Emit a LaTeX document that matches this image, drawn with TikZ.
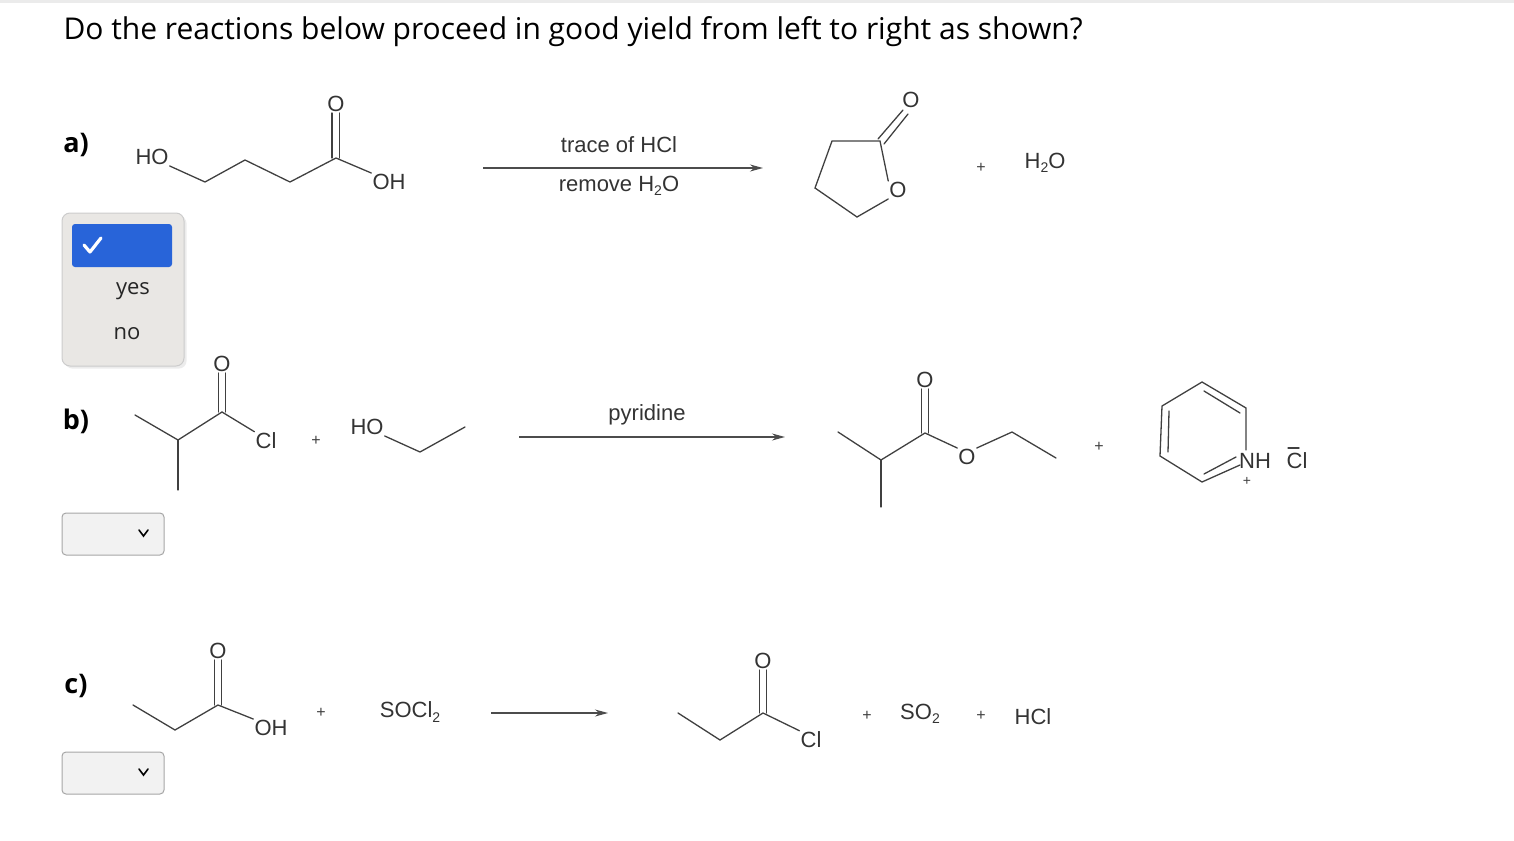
\documentclass[tikz,border=0pt]{standalone}
\usepackage{fontspec}
\setmainfont{Liberation Sans}
\newfontfamily\uifont{Open Sans}
\usetikzlibrary{arrows.meta,shadows}
\definecolor{selblue}{HTML}{2864D9}
\definecolor{boxgray}{HTML}{E9E7E4}
\newcommand{\sub}[1]{\raisebox{-0.35ex}{\fontsize{14}{14}\selectfont #1}}
\tikzset{
	bond/.style={line width=1.3pt, color=black!75, line cap=round},
	atom/.style={inner sep=1pt, font=\fontsize{22}{22}\selectfont, text=black!80},
	rxn/.style={line width=1.3pt, color=black!70, -{Stealth[length=13pt,width=7pt]}},
	plus/.style={font=\fontsize{16}{16}\selectfont, text=black!75},
	part/.style={font=\uifont\bfseries\fontsize{27}{27}\selectfont},
	drop/.style={draw=black!35, line width=1pt, fill=black!5, rounded corners=4pt}
}
\begin{document}
	\begin{tikzpicture}[x=1pt,y=-1pt]
		\useasboundingbox (0,0) rectangle (1514,840);
		\fill[black!8] (0,0) rectangle (1514,3);
		\node[anchor=base west, font=\uifont\fontsize{30}{30}\selectfont] (question) at (60,40) {Do the reactions below proceed in good yield from left to right as shown?};
		
		% a)
		\node[part] (pa) at (76,145) {a)};
		\node[atom] (a1) at (152,157) {HO};
		\node[atom] (aO) at (336,104) {O};
		\node[atom] (aOH) at (389,182) {OH};
		\draw[bond] (a1.south east) -- (205,182) -- (245,160) -- (290,182) -- (336,158) -- (aOH.north west);
		\draw[bond] (332,158) -- (aO.south -| 332,0); \draw[bond] (339.5,158) -- (aO.south -| 339.5,0);
		\draw[rxn] (483,168) -- (763,168);
		\node[atom] (acat) at (619,145) {trace of HCl};
		\node[atom] (arem) at (619,186) {remove H\sub{2}O};
		\node[atom] (lO) at (898,190) {O};
		\node[atom] (lOc) at (911,100) {O};
		\draw[bond] (lO.north west) -- (880,141) -- (832,141) -- (815,188) -- (857,217) -- (lO.south west);
		\draw[bond] (878,139) -- (903,110); \draw[bond] (884,144) -- (908,114);
		\node[plus] (ap) at (981,168) {+};
		\node[atom] (aw) at (1045,163) {H\sub{2}O};
		
		% dropdown open
		\node[drop, draw=black!20, fill=boxgray, drop shadow={opacity=0.15}, minimum width=122pt, minimum height=153pt, rounded corners=8pt] (menu) at (123,289.5) {};
		\fill[selblue, rounded corners=3pt] (72,224) rectangle (172,267);
		\draw[white, line width=3.2pt, line cap=round, line join=round] (84,245) -- (90,252) -- (101,238);
		\node[font=\uifont\fontsize{22}{22}\selectfont, text=black!85] (yes) at (133,291) {yes};
		\node[font=\uifont\fontsize{22}{22}\selectfont, text=black!85] (no) at (127,334) {no};
		
		% b)
		\node[part] (pb) at (76,421) {b)};
		\node[atom] (bO) at (222,364) {O};
		\node[atom] (bCl) at (266,441) {Cl};
		\draw[bond] (135,415) -- (178,440) -- (222,412) -- (bCl.north west);
		\draw[bond] (178,440) -- (178,490);
		\draw[bond] (218.5,412) -- (bO.south -| 218.5,0); \draw[bond] (225.5,412) -- (bO.south -| 225.5,0);
		\node[plus] (bp1) at (316,441) {+};
		\node[atom] (bHO) at (367,427) {HO};
		\draw[bond] (bHO.south east) -- (420,452) -- (465,427);
		\draw[rxn] (519,437) -- (785,437);
		\node[atom] (bcat) at (647,415) {pyridine};
		\node[atom] (eO) at (925,380) {O};
		\node[atom] (eO2) at (967,457) {O};
		\draw[bond] (838,432) -- (881,460) -- (925,433) -- (eO2.north west);
		\draw[bond] (eO2.north east) -- (1012,432) -- (1056,458);
		\draw[bond] (881,460) -- (881,507);
		\draw[bond] (921.5,433) -- (eO.south -| 921.5,0); \draw[bond] (928.5,433) -- (eO.south -| 928.5,0);
		\node[plus] (bp2) at (1099,447) {+};
		\node[atom, anchor=west] (pN) at (1238,461) {NH};
		\node[atom] (pCl) at (1297,461) {Cl};
		\draw[bond] (1288,448) -- (1299,448);
		\node[plus, font=\fontsize{14}{14}\selectfont] (pq) at (1247,481) {+};
		\draw[bond] (1246,450) -- (1246,408) -- (1202,382) -- (1162,406) -- (1160,456) -- (1202,482) -- (1240,465);
		\draw[bond] (1240,413) -- (1204,391);
		\draw[bond] (1169,411) -- (1168,452);
		\draw[bond] (1204,474) -- (1236,457);
		\node[drop, minimum width=102pt, minimum height=42pt] (dropb) at (113,534) {};
		\draw[line width=1.6pt, line cap=round] (139,530) -- (143.5,536) -- (148,530);
		
		% c)
		\node[part] (pc) at (76,686) {c)};
		\node[atom] (cO) at (218,651) {O};
		\node[atom] (cOH) at (271,728) {OH};
		\draw[bond] (133,705) -- (175,730) -- (218,705) -- (cOH.north west);
		\draw[bond] (214.5,705) -- (cO.south -| 214.5,0); \draw[bond] (221.5,705) -- (cO.south -| 221.5,0);
		\node[plus] (cp1) at (321,713) {+};
		\node[atom] (cs) at (410,712) {SOCl\sub{2}};
		\draw[rxn] (491,713) -- (608,713);
		\node[atom] (cO2) at (763,661) {O};
		\node[atom] (cCl) at (811,740) {Cl};
		\draw[bond] (678,713) -- (720,740) -- (763,713) -- (cCl.north west);
		\draw[bond] (759.5,713) -- (cO2.south -| 759.5,0); \draw[bond] (766.5,713) -- (cO2.south -| 766.5,0);
		\node[plus] (cp2) at (867,716) {+};
		\node[atom] (cso) at (920,714) {SO\sub{2}};
		\node[plus] (cp3) at (981,716) {+};
		\node[atom] (chcl) at (1033,717) {HCl};
		\node[drop, minimum width=102pt, minimum height=42pt] (dropc) at (113,773) {};
		\draw[line width=1.6pt, line cap=round] (139,769) -- (143.5,775) -- (148,769);
	\end{tikzpicture}
\end{document}
